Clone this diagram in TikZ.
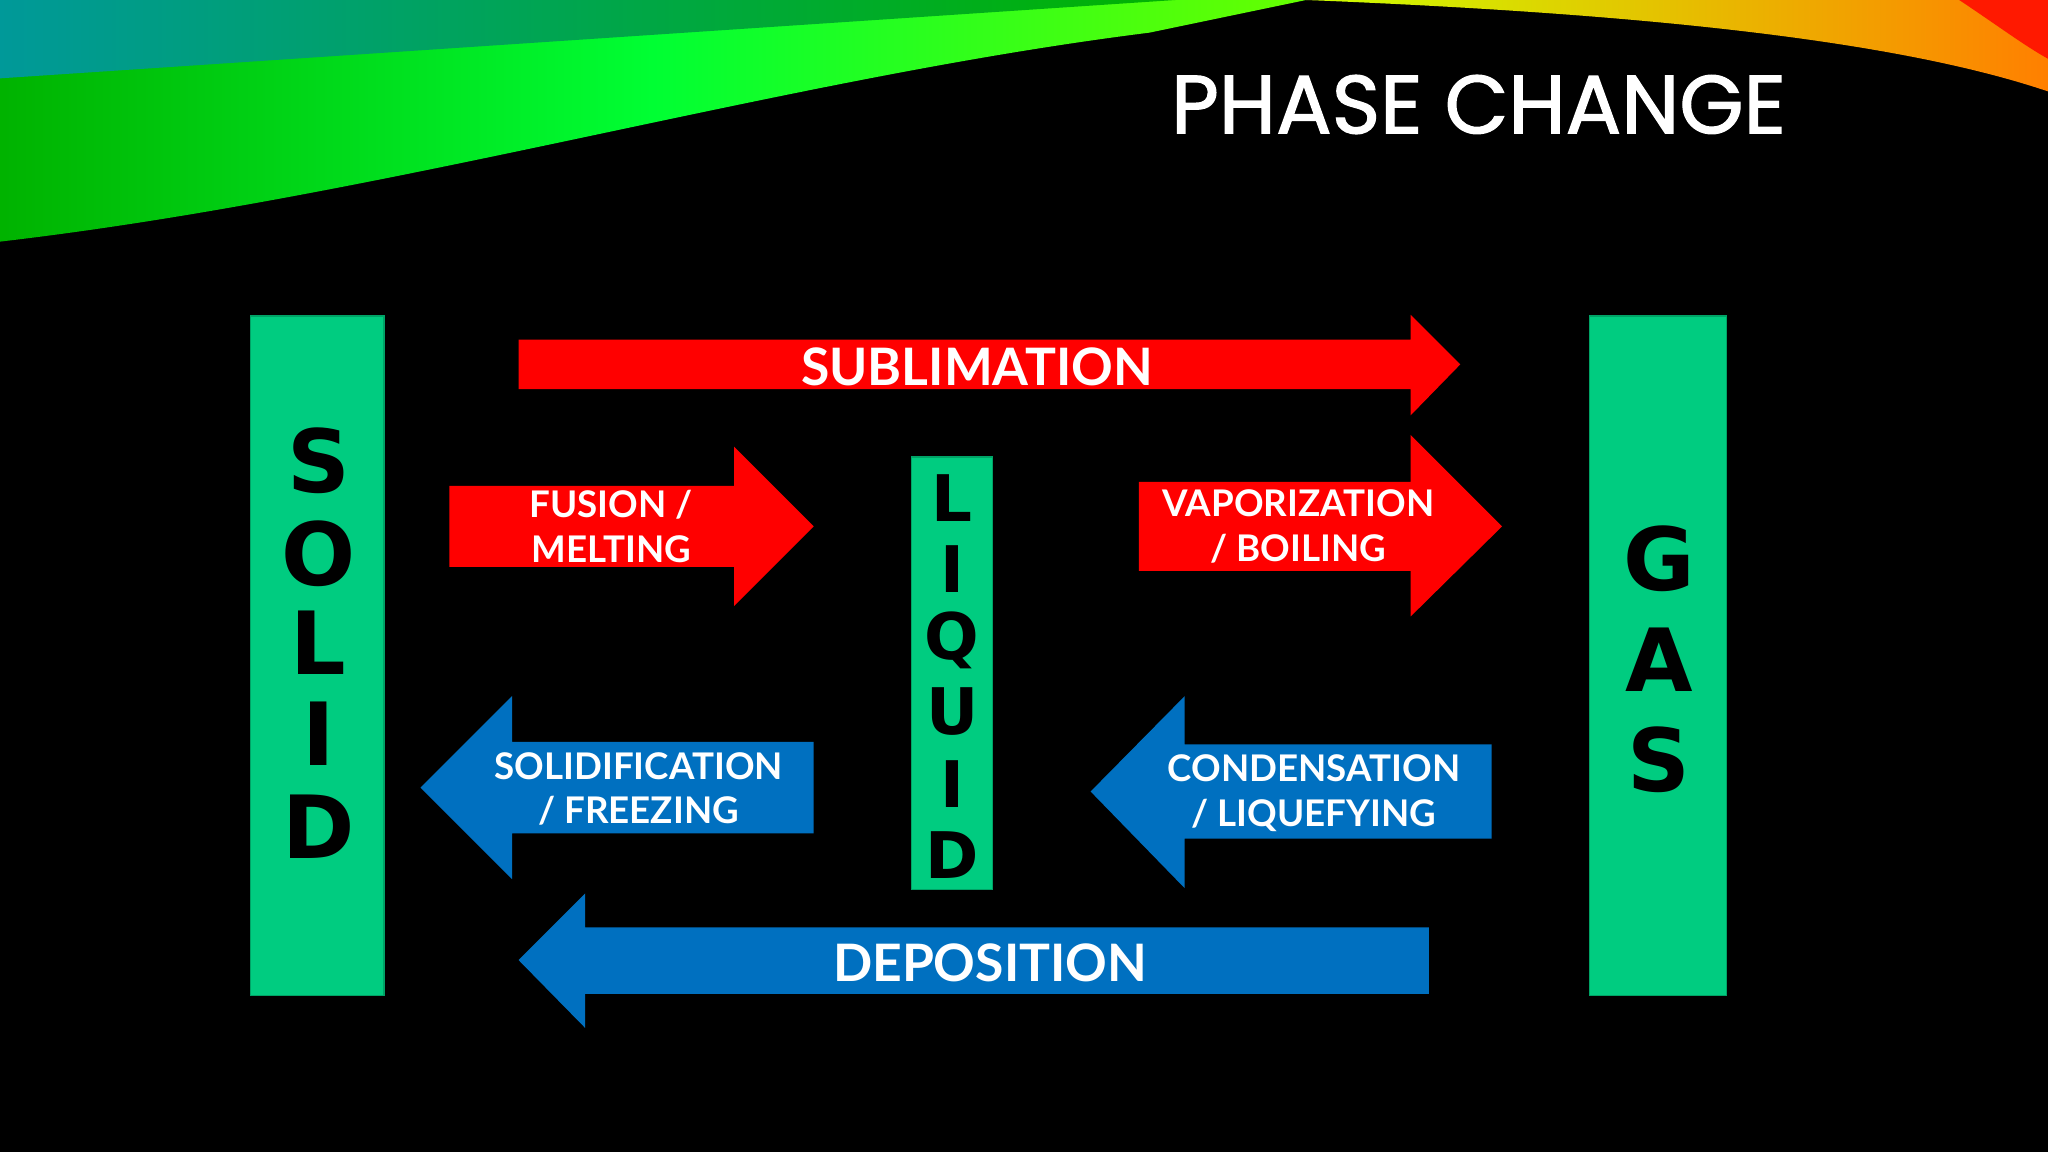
\documentclass[tikz,border=0pt]{standalone}
\usepackage{fontspec}
\setmainfont{Lato}
\newfontfamily\titlefont[FakeBold=1.5]{Poppins}
\newfontfamily\heavyfont{DejaVu Sans}
\begin{document}
\begin{tikzpicture}[x=0.02cm,y=-0.02cm,
  box/.style={fill=phgreen,draw=phgreen!80!black,line width=0.6pt},
  big/.style={font=\heavyfont\fontsize{38}{38}\selectfont\bfseries,text=black},
  mid/.style={font=\heavyfont\fontsize{28}{28}\selectfont\bfseries,text=black},
  lab/.style={font=\fontsize{16}{19.5}\selectfont\bfseries,text=white,align=center},
  labbig/.style={font=\fontsize{22.5}{26}\selectfont\bfseries,text=white}]
\definecolor{phgreen}{RGB}{0,204,128}
\definecolor{phblue}{RGB}{0,112,192}
\definecolor{phred}{RGB}{255,0,0}
\fill[black] (0,0) rectangle (1568,882);
\useasboundingbox (0,0) rectangle (1568,882);
% swoosh
\shade[left color=green!70!black,right color=green!60!yellow,middle color=green!80!cyan]
  (0,0) -- (0,185) .. controls (300,150) and (600,60) .. (880,25) -- (1000,0) -- cycle;
\shade[left color=cyan!60!black,right color=green!70!black] (0,0) -- (0,60) .. controls (300,40) and (600,20) .. (900,0) -- cycle;
\shade[left color=yellow!80!green,right color=orange] (1000,0) .. controls (1250,10) and (1450,30) .. (1568,70) -- (1568,0) -- cycle;
\fill[red!80!orange] (1500,0) .. controls (1530,20) and (1550,35) .. (1568,45) -- (1568,0) -- cycle;
\node[font=\titlefont\fontsize{36}{36}\selectfont,text=white] (title) at (1132,80) {PHASE CHANGE};
% boxes
\draw[box] (192,242) rectangle (294,762);
\draw[box] (1217,242) rectangle (1322,762);
\draw[box] (698,350) rectangle (760,681);
\foreach \l/\y [count=\i] in {S/353,O/424,L/492,I/562,D/633} \node[big] (s\i) at (244,\y) {\l};
\foreach \l/\y [count=\i] in {G/428,A/505,S/582} \node[big] (g\i) at (1270,\y) {\l};
\foreach \l/\y [count=\i] in {L/381,I/436,Q/490,U/545,I/600,D/655} \node[mid] (l\i) at (729,\y) {\l};
% arrows
\fill[phred] (397,260) -- (1080,260) -- (1080,241) -- (1118,279) -- (1080,318) -- (1080,298) -- (397,298) -- cycle;
\node[labbig] (sub) at (748,281) {SUBLIMATION};
\fill[phred] (344,372) -- (562,372) -- (562,342) -- (623,403) -- (562,464) -- (562,434) -- (344,434) -- cycle;
\node[lab] (fus) at (468,403) {FUSION /\\MELTING};
\fill[phred] (872,369) -- (1080,369) -- (1080,333) -- (1150,403) -- (1080,472) -- (1080,437) -- (872,437) -- cycle;
\node[lab] (vap) at (994,403) {VAPORIZATION\\/ BOILING};
\fill[phblue] (623,568) -- (392,568) -- (392,533) -- (322,603) -- (392,673) -- (392,638) -- (623,638) -- cycle;
\node[lab] (sol) at (489,604) {SOLIDIFICATION\\/ FREEZING};
\fill[phblue] (1142,570) -- (907,570) -- (907,533) -- (835,606) -- (907,680) -- (907,642) -- (1142,642) -- cycle;
\node[lab] (con) at (1006,607) {CONDENSATION\\/ LIQUEFYING};
\fill[phblue] (1094,710) -- (448,710) -- (448,684) -- (397,735) -- (448,787) -- (448,761) -- (1094,761) -- cycle;
\node[labbig] (dep) at (758,737) {DEPOSITION};
\end{tikzpicture}
\end{document}
